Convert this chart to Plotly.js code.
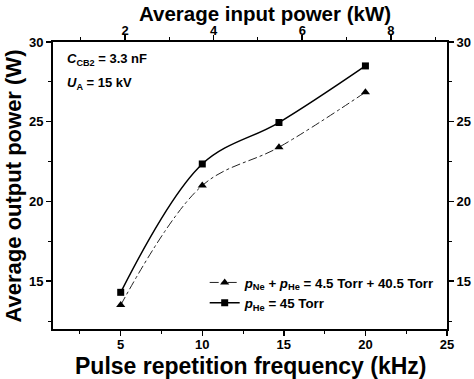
<!DOCTYPE html>
<html>
<head>
<meta charset="utf-8">
<script src="https://cdn.plot.ly/plotly-3.0.1.min.js"></script>
<style>html,body{margin:0;padding:0;background:#fff}#plot{width:474px;height:379px}</style>
</head>
<body>
<div id="plot"></div>
<script>
// Data
const freqKHz = [5, 10, 14.7, 20];
const powerMix = [13.5, 21.0, 23.4, 26.85];   // p_Ne + p_He = 4.5 + 40.5 Torr (triangles)
const powerHe = [14.3, 22.35, 24.95, 28.5];   // p_He = 45 Torr (squares)
const nameMix = '<i>p</i><sub>Ne</sub> + <i>p</i><sub>He</sub> = 4.5 Torr + 40.5 Torr';
const nameHe = '<i>p</i><sub>He</sub> = 45 Torr';
const bottomTicks = [5, 10, 15, 20, 25];
const topTicks = [2, 4, 6, 8];
const yTicks = [15, 20, 25, 30];

const F = 'Liberation Sans, Arial, sans-serif';
const traces = [
  {x: freqKHz, y: powerMix, name: nameMix, mode: 'lines+markers',
   line: {color: '#222', width: 1, dash: 'dashdot', shape: 'spline', smoothing: 1},
   marker: {symbol: 'triangle-up', size: 8, color: '#000'}},
  {x: freqKHz, y: powerHe, name: nameHe, mode: 'lines+markers',
   line: {color: '#000', width: 1.5, shape: 'spline', smoothing: 1},
   marker: {symbol: 'square', size: 7, color: '#000'}},
  {x: [null], y: [null], xaxis: 'x2', yaxis: 'y', showlegend: false, hoverinfo: 'skip', mode: 'markers'},
  {x: [null], y: [null], xaxis: 'x', yaxis: 'y2', showlegend: false, hoverinfo: 'skip', mode: 'markers'}
];
const axisCommon = {showgrid: false, zeroline: false, showline: true, linecolor: '#000', linewidth: 2,
  ticks: 'outside', ticklen: 5, tickwidth: 1.5, tickcolor: '#000',
  tickfont: {family: F, size: 13, weight: 'bold', color: '#000'}};
const layout = {
  width: 474, height: 379,
  margin: {l: 53, r: 27, t: 42, b: 50},
  paper_bgcolor: '#fff', plot_bgcolor: '#fff',
  font: {family: F, color: '#000'},
  showlegend: true,
  legend: {x: 0.385, y: 0.215, xanchor: 'left', yanchor: 'top', bgcolor: 'rgba(0,0,0,0)',
    font: {family: F, size: 13.3, weight: 'bold', color: '#000'}, tracegroupgap: 0, itemwidth: 30},
  xaxis: Object.assign({}, axisCommon, {range: [0.85, 25], tickvals: bottomTicks, ticklabelstandoff: -3,
    minor: {dtick: 2.5, tick0: 0, ticklen: 3, tickwidth: 1, tickcolor: '#000', ticks: 'outside'}}),
  xaxis2: Object.assign({}, axisCommon, {overlaying: 'x', side: 'top', anchor: 'y', range: [0.37, 9.27], tickvals: topTicks,
    ticklabelstandoff: -5,
    minor: {dtick: 1, tick0: 0, ticklen: 3, tickwidth: 1, tickcolor: '#000', ticks: 'outside'}}),
  yaxis: Object.assign({}, axisCommon, {range: [12, 30], tickvals: yTicks,
    minor: {dtick: 2.5, tick0: 0, ticklen: 3, tickwidth: 1, tickcolor: '#000', ticks: 'outside'}}),
  yaxis2: Object.assign({}, axisCommon, {overlaying: 'y', side: 'right', anchor: 'x', range: [12, 30], tickvals: yTicks,
    minor: {dtick: 2.5, tick0: 0, ticklen: 3, tickwidth: 1, tickcolor: '#000', ticks: 'outside'}}),
  annotations: [
    {xref: 'paper', yref: 'paper', x: 0.538, y: 1.146, xanchor: 'center', yanchor: 'top', showarrow: false,
     text: '<b>Average input power (kW)</b>', font: {family: F, size: 20.5, color: '#000'}},
    {xref: 'paper', yref: 'paper', x: 0.5, y: -0.13, xanchor: 'center', yanchor: 'middle', showarrow: false,
     text: '<b>Pulse repetition frequency (kHz)</b>', font: {family: F, size: 23, color: '#000'}},
    {xref: 'paper', yref: 'paper', x: -0.099, y: 0.5, xanchor: 'center', yanchor: 'middle', showarrow: false, textangle: -90,
     text: '<b>Average output power (W)</b>', font: {family: F, size: 22, color: '#000'}},
    {xref: 'paper', yref: 'paper', x: 0.03, y: 0.94, xanchor: 'left', yanchor: 'middle', showarrow: false,
     text: '<b><i>C</i><sub>CB2</sub> = 3.3 nF</b>', font: {family: F, size: 13, color: '#000'}},
    {xref: 'paper', yref: 'paper', x: 0.03, y: 0.855, xanchor: 'left', yanchor: 'middle', showarrow: false,
     text: '<b><i>U</i><sub>A</sub> = 15 kV</b>', font: {family: F, size: 13, color: '#000'}}
  ]
};
Plotly.newPlot('plot', traces, layout, {staticPlot: true, displayModeBar: false});
</script>
</body>
</html>
